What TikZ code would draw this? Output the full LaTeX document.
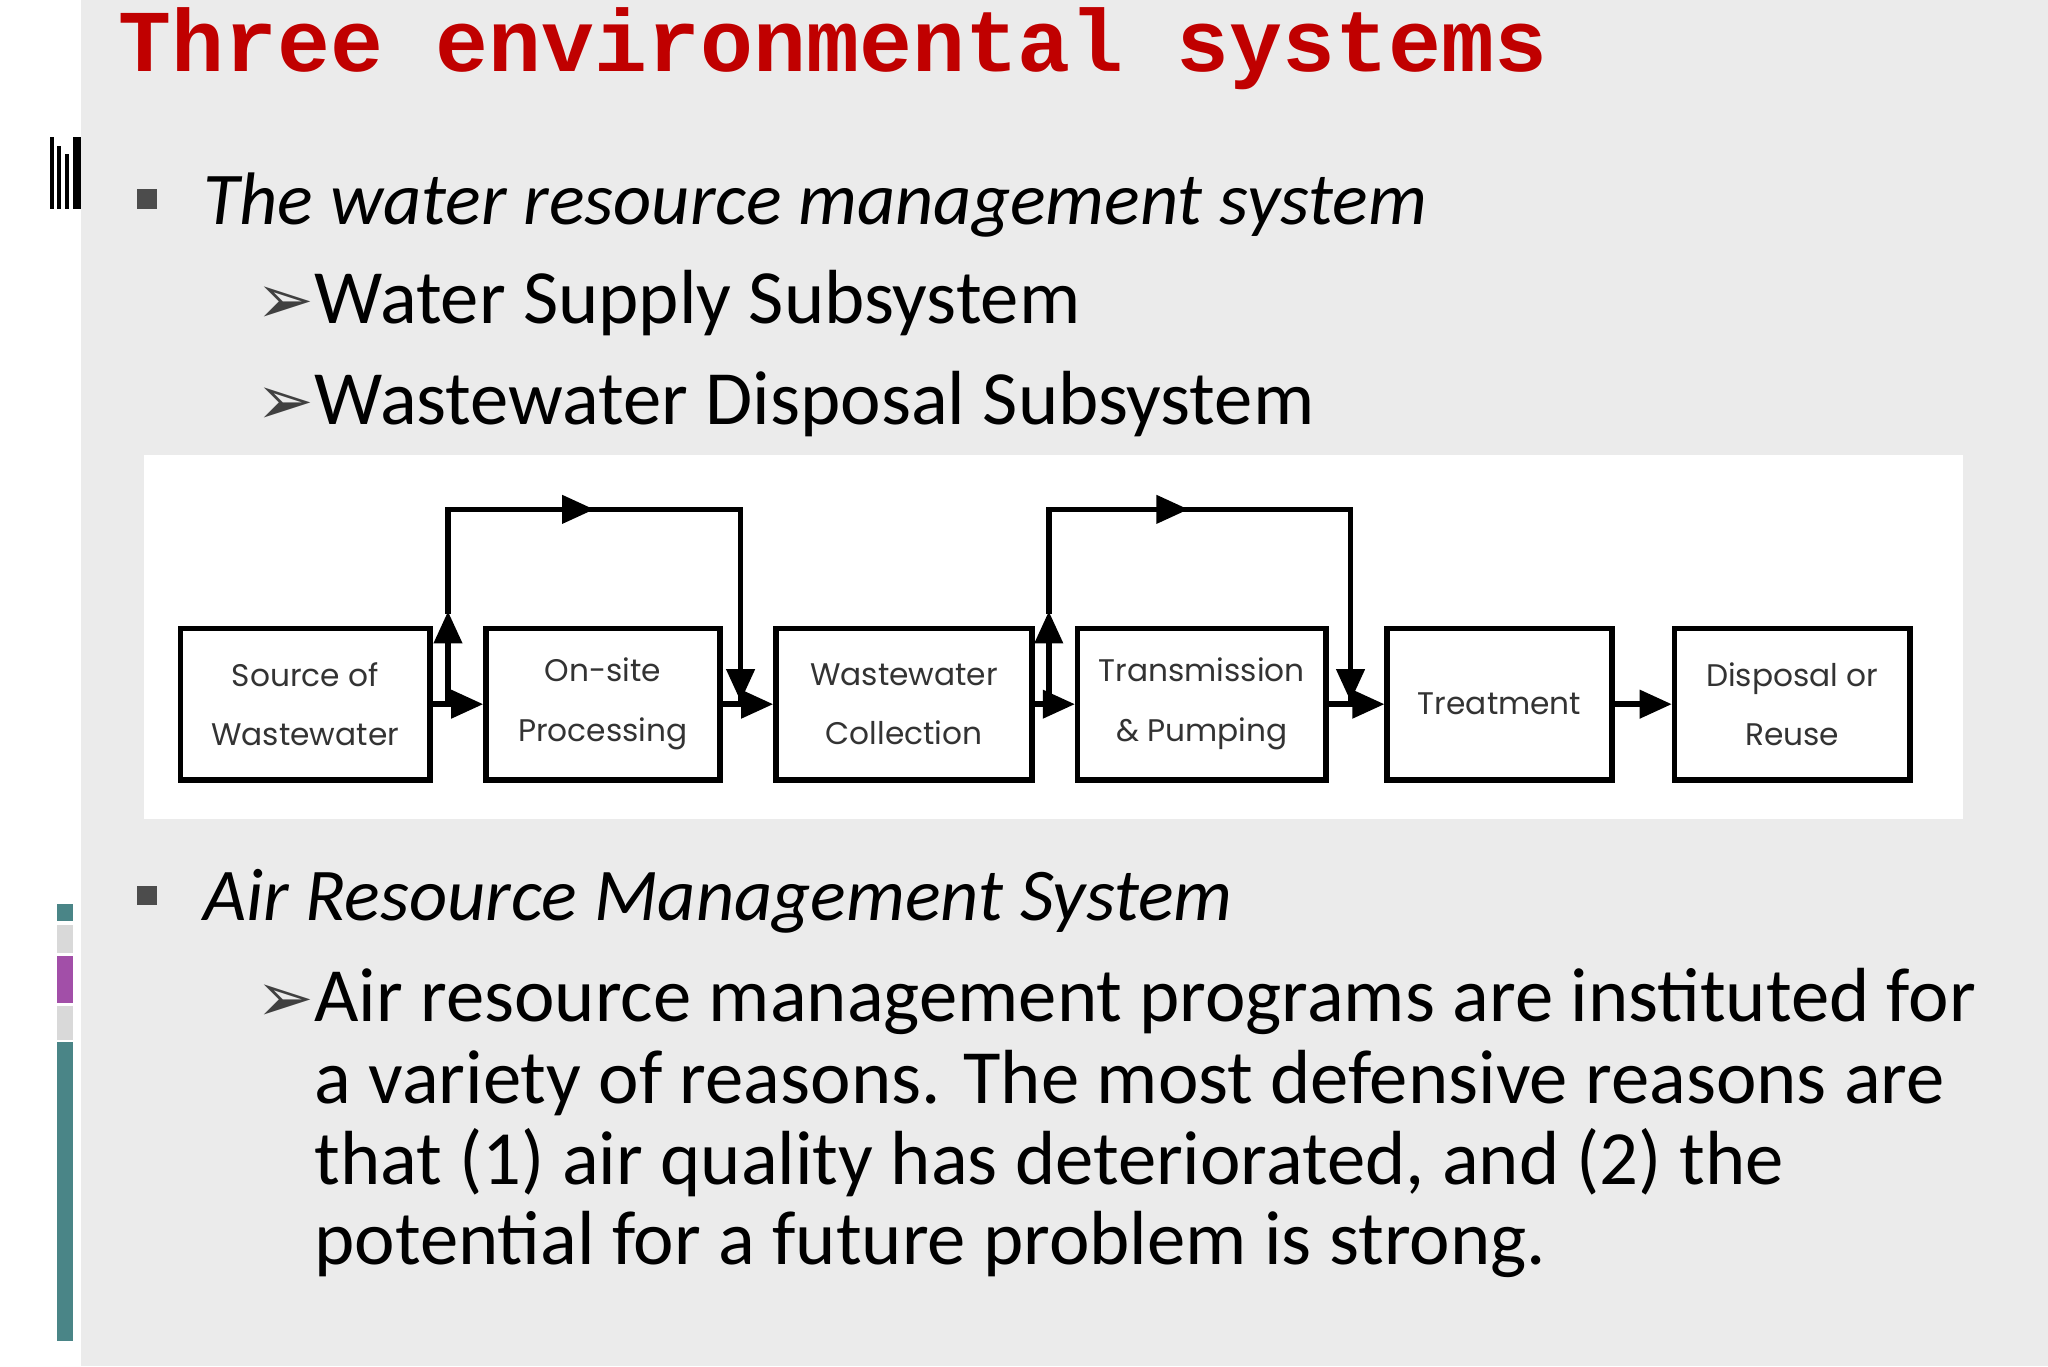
\documentclass[tikz,border=0pt]{standalone}
\usepackage{fontspec}
\setmainfont{Carlito}
\newfontfamily\titlefont{Liberation Mono}
\newfontfamily\boxfont{Poppins}
\newfontfamily\symfont{DejaVu Sans}
\usetikzlibrary{arrows.meta}
\definecolor{titlered}{HTML}{C00000}
\definecolor{teal}{HTML}{4A8587}
\definecolor{purp}{HTML}{A24FA8}
\begin{document}
\begin{tikzpicture}[x=0.01cm,y=-0.01cm,
  txt/.style={anchor=base west,inner sep=0pt,font=\fontsize{16.7}{20}\selectfont},
  itxt/.style={txt,font=\fontsize{16.2}{20}\selectfont\itshape},
  sym/.style={anchor=base west,inner sep=0pt,font=\symfont\fontsize{15}{17}\selectfont,text=black!75},
  bx/.style={draw,line width=1.2pt,fill=white,anchor=north west,inner sep=0pt,align=center,font=\boxfont\fontsize{6.8}{13}\selectfont,text=black!80},
  ar/.style={line width=1.2pt,-{Triangle[length=7pt,width=6pt]}},
  ln/.style={line width=1.2pt}]
\useasboundingbox (0,0) rectangle (1568,1046);
\fill[white] (0,0) rectangle (1568,1046);
\fill[black!8] (62,0) rectangle (1568,1046);
% left decorations
\fill[black] (38,105) rectangle (41,160);
\fill[black] (44,112) rectangle (47,160);
\fill[black] (50,118) rectangle (53,160);
\fill[black] (56,105) rectangle (62,160);
\fill[teal] (44,692) rectangle (56,705);
\fill[black!15] (44,708) rectangle (56,730);
\fill[purp] (44,732) rectangle (56,768);
\fill[black!15] (44,770) rectangle (56,796);
\fill[teal] (44,798) rectangle (56,1027);
% title
\node[anchor=base west,inner sep=0pt,text=titlered,font=\titlefont\bfseries\fontsize{19.2}{22}\selectfont] (title) at (90,55) {Three environmental systems};
% bullets
\fill[black!70] (105,145) rectangle (120,160);
\node[itxt] (h1) at (155,172) {The water resource management system};
\node[sym] (a1) at (196,248) {➢};
\node[txt] (s1) at (240,248) {Water Supply Subsystem};
\node[sym] (a2) at (196,325) {➢};
\node[txt] (s2) at (240,325) {Wastewater Disposal Subsystem};
% panel
\fill[white] (110,348) rectangle (1503,627);
\node[bx,minimum width=1.91cm,minimum height=1.16cm] (b1) at (136,479) {Source of\\Wastewater};
\node[bx,minimum width=1.79cm,minimum height=1.16cm] (b2) at (370,479) {On-site\\Processing};
\node[bx,minimum width=1.96cm,minimum height=1.16cm] (b3) at (592,479) {Wastewater\\Collection};
\node[bx,minimum width=1.90cm,minimum height=1.16cm] (b4) at (823,479) {Transmission\\\& Pumping};
\node[bx,minimum width=1.72cm,minimum height=1.16cm] (b5) at (1060,479) {Treatment};
\node[bx,minimum width=1.80cm,minimum height=1.16cm] (b6) at (1280,479) {Disposal or\\Reuse};
\draw[ar] (b1.east) -- (b2.west);
\draw[ar] (b2.east) -- (b3.west);
\draw[ar] (b3.east) -- (b4.west);
\draw[ar] (b4.east) -- (b5.west);
\draw[ar] (b5.east) -- (b6.west);
\coordinate (p1) at (343,537); \coordinate (p2) at (343,390);
\coordinate (p3) at (567,390); \coordinate (p4) at (567,537);
\draw[ar] (p1) -- (343,468);
\draw[ln] (343,470) -- (p2) -- (p3) -- (p4);
\draw[ar] (p2) -- (455,390);
\draw[ar] (567,500) -- (p4);
\coordinate (q1) at (803,537); \coordinate (q2) at (803,390);
\coordinate (q3) at (1034,390); \coordinate (q4) at (1034,537);
\draw[ar] (q1) -- (803,468);
\draw[ln] (803,470) -- (q2) -- (q3) -- (q4);
\draw[ar] (q2) -- (910,390);
\draw[ar] (1034,500) -- (q4);
% air
\fill[black!70] (105,678) rectangle (120,693);
\node[itxt] (h2) at (155,705) {Air Resource Management System};
\node[sym] (a3) at (196,782) {➢};
\node[txt] (l1) at (240,782) {Air resource management programs are instituted for};
\node[txt] (l2) at (240,845) {a variety of reasons. The most defensive reasons are};
\node[txt] (l3) at (240,907) {that (1) air quality has deteriorated, and (2) the};
\node[txt] (l4) at (240,968) {potential for a future problem is strong.};
\end{tikzpicture}
\end{document}
